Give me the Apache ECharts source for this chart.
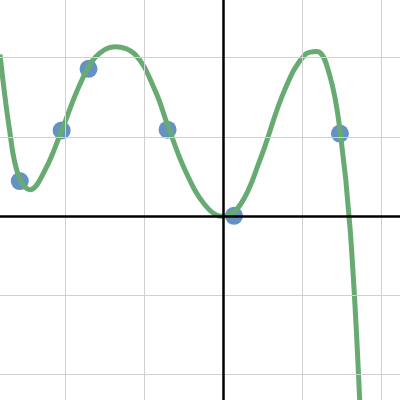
<!DOCTYPE html>
<html><head><meta charset="utf-8">
<script src="https://cdn.jsdelivr.net/npm/echarts@6/dist/echarts.min.js"></script>
<style>html,body{margin:0;padding:0;background:#fff}#c{width:400px;height:400px}</style>
</head><body><div id="c"></div>
<script>
const curveX = [-2.82,-2.70,-2.59,-2.44,-2.25,-2.04,-1.81,-1.62,-1.37,-1.11,-0.86,-0.70,-0.48,-0.23,-0.01,0.22,0.47,0.78,1.04,1.19,1.35,1.48,1.61,1.73];
const curveY = [2.04,1.09,0.52,0.33,0.58,1.08,1.66,2.0,2.14,2.04,1.59,1.15,0.58,0.14,-0.01,0.14,0.71,1.59,2.04,2.08,1.78,1.09,-0.18,-2.33];
const pointX = [-2.57,-2.04,-1.70,-0.70,0.14,1.48];
const pointY = [0.44,1.08,1.86,1.09,0.0,1.04];
const gridX = [-2,-1,1,2];
const gridY = [-2,-1,1,2];
const chart = echarts.init(document.getElementById('c'));
const gl = {color:'#d0d0d0',width:1,type:'solid'};
chart.setOption({
  animation:false,
  grid:{left:0,right:0,top:0,bottom:0},
  xAxis:{type:'value',min:-2.82,max:2.24,show:false},
  yAxis:{type:'value',min:-2.33,max:2.73,show:false},
  series:[
    {type:'line',data:[],markLine:{silent:true,symbol:'none',label:{show:false},animation:false,
      data:[...gridX.map(v=>({xAxis:v,lineStyle:gl})),...gridY.map(v=>({yAxis:v,lineStyle:gl})),
        {xAxis:0,lineStyle:{color:'#000',width:2.5,type:'solid'}},{yAxis:0,lineStyle:{color:'#000',width:2.5,type:'solid'}}]}},
    {type:'line',smooth:0.4,showSymbol:false,data:curveX.map((x,i)=>[x,curveY[i]]),
      lineStyle:{color:'#68ab72',width:5}},
    {type:'scatter',symbolSize:18,data:pointX.map((x,i)=>[x,pointY[i]]),itemStyle:{color:'#3e75b6'}}
  ]
});
</script></body></html>
